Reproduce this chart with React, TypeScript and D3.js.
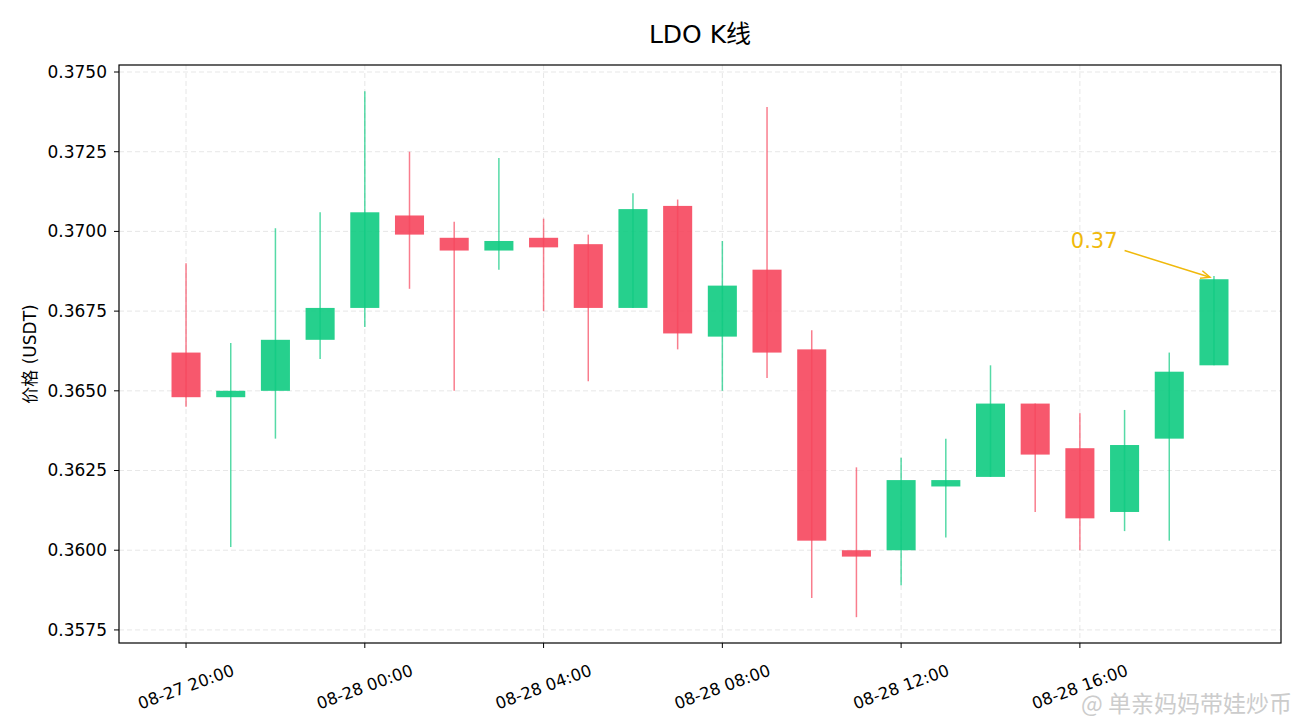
import React, { FC, useMemo } from "react";
import * as d3 from "d3";

// hourly candles, 08-27 20:00 .. 08-28 19:00
const times = [
    "08-27 20:00", "08-27 21:00", "08-27 22:00", "08-27 23:00",
    "08-28 00:00", "08-28 01:00", "08-28 02:00", "08-28 03:00",
    "08-28 04:00", "08-28 05:00", "08-28 06:00", "08-28 07:00",
    "08-28 08:00", "08-28 09:00", "08-28 10:00", "08-28 11:00",
    "08-28 12:00", "08-28 13:00", "08-28 14:00", "08-28 15:00",
    "08-28 16:00", "08-28 17:00", "08-28 18:00", "08-28 19:00",
];
const opens = [
    0.3662, 0.3648, 0.365, 0.3666, 0.3676, 0.3705, 0.3698, 0.3694,
    0.3698, 0.3696, 0.3676, 0.3708, 0.3667, 0.3688, 0.3663, 0.36,
    0.36, 0.362, 0.3623, 0.3646, 0.3632, 0.3612, 0.3635, 0.3658,
];
const highs = [
    0.369, 0.3665, 0.3701, 0.3706, 0.3744, 0.3725, 0.3703, 0.3723,
    0.3704, 0.3699, 0.3712, 0.371, 0.3697, 0.3739, 0.3669, 0.3626,
    0.3629, 0.3635, 0.3658, 0.3646, 0.3643, 0.3644, 0.3662, 0.3686,
];
const lows = [
    0.3645, 0.3601, 0.3635, 0.366, 0.367, 0.3682, 0.365, 0.3688,
    0.3675, 0.3653, 0.3676, 0.3663, 0.365, 0.3654, 0.3585, 0.3579,
    0.3589, 0.3604, 0.3623, 0.3612, 0.36, 0.3606, 0.3603, 0.3658,
];
const closes = [
    0.3648, 0.365, 0.3666, 0.3676, 0.3706, 0.3699, 0.3694, 0.3697,
    0.3695, 0.3676, 0.3707, 0.3668, 0.3683, 0.3662, 0.3603, 0.3598,
    0.3622, 0.3622, 0.3646, 0.363, 0.361, 0.3633, 0.3656, 0.3685,
];
const yTicks = [0.3575, 0.36, 0.3625, 0.365, 0.3675, 0.37, 0.3725, 0.375];
const xTickIdx = [0, 4, 8, 12, 16, 20];

const UP = "#0ECB81";
const DOWN = "#F6465D";
const GOLD = "#F0B90B";
const FONT = "'DejaVu Sans', 'Noto Sans CJK SC', sans-serif";

const W = 1300;
const H = 728;
const margin = { left: 119, right: 1281, top: 65, bottom: 643 };

const App: FC = () => {
    const x = useMemo(
        () => d3.scaleLinear([-1.5, times.length + 0.5], [margin.left, margin.right]),
        []
    );
    const y = useMemo(
        () => d3.scaleLinear([0.35709, 0.37522], [margin.bottom, margin.top]),
        []
    );
    const step = x(1) - x(0);
    const bodyW = step * 0.65;

    const candles = useMemo(
        () =>
            times.map((t, i) => ({
                t,
                i,
                o: opens[i],
                h: highs[i],
                l: lows[i],
                c: closes[i],
                up: closes[i] >= opens[i],
            })),
        []
    );

    const last = candles[candles.length - 1];
    const tipX = x(last.i) - 4;
    const tipY = y(last.c) - 2;
    const fromX = x(last.i - 2);
    const fromY = y(last.c + 0.0009);
    const ang = Math.atan2(tipY - fromY, tipX - fromX);
    const head = 10;

    return (
        <svg
            width={W}
            height={H}
            style={{ position: "absolute", top: 0, left: 0, background: "#fff" }}
            fontFamily={FONT}
        >
            {/* grid */}
            <g stroke="#b0b0b0" strokeOpacity={0.3} strokeDasharray="5,3" strokeWidth={1}>
                {yTicks.map((d) => (
                    <line key={d} x1={margin.left} x2={margin.right} y1={y(d)} y2={y(d)} />
                ))}
                {xTickIdx.map((d) => (
                    <line key={d} x1={x(d)} x2={x(d)} y1={margin.top} y2={margin.bottom} />
                ))}
            </g>

            {/* candles */}
            {candles.map((d) => {
                const col = d.up ? UP : DOWN;
                const top = y(Math.max(d.o, d.c));
                const bot = y(Math.min(d.o, d.c));
                return (
                    <g key={d.t}>
                        <rect
                            x={x(d.i) - bodyW / 2}
                            y={top}
                            width={bodyW}
                            height={Math.max(bot - top, 1)}
                            fill={col}
                            fillOpacity={0.9}
                        />
                        <line
                            x1={x(d.i)}
                            x2={x(d.i)}
                            y1={y(d.h)}
                            y2={y(d.l)}
                            stroke={col}
                            strokeOpacity={0.7}
                            strokeWidth={1.5}
                        />
                    </g>
                );
            })}

            {/* annotation of last close */}
            <text x={fromX - 7} y={fromY - 3} fill={GOLD} fontSize={21} textAnchor="end">
                {last.c.toFixed(2)}
            </text>
            <g stroke={GOLD} strokeWidth={1.5} fill="none">
                <line x1={fromX} y1={fromY} x2={tipX} y2={tipY} />
                <path
                    d={`M${tipX - head * Math.cos(ang - 0.4)},${tipY - head * Math.sin(ang - 0.4)}
                        L${tipX},${tipY}
                        L${tipX - head * Math.cos(ang + 0.4)},${tipY - head * Math.sin(ang + 0.4)}`}
                />
            </g>

            {/* frame */}
            <rect
                x={margin.left}
                y={margin.top}
                width={margin.right - margin.left}
                height={margin.bottom - margin.top}
                fill="none"
                stroke="#000"
                strokeWidth={1.2}
            />

            {/* y axis */}
            <g>
                {yTicks.map((d) => (
                    <g key={d} transform={`translate(${margin.left},${y(d)})`}>
                        <line x1={-5} x2={0} stroke="#000" strokeWidth={1} />
                        <text x={-12} dy="0.35em" textAnchor="end" fontSize={17} fill="#000">
                            {d.toFixed(4)}
                        </text>
                    </g>
                ))}
            </g>
            <text
                transform={`translate(30,${(margin.top + margin.bottom) / 2}) rotate(-90)`}
                textAnchor="middle"
                dy="0.35em"
                fontSize={17}
                fill="#000"
            >
                价格 (USDT)
            </text>

            {/* x axis */}
            <g>
                {xTickIdx.map((d) => (
                    <g key={d} transform={`translate(${x(d)},${margin.bottom})`}>
                        <line y1={0} y2={5} stroke="#000" strokeWidth={1} />
                        <text
                            transform={`translate(0,44) rotate(-20)`}
                            textAnchor="middle"
                            dominantBaseline="central"
                            fontSize={16.5}
                            fill="#000"
                        >
                            {times[d]}
                        </text>
                    </g>
                ))}
            </g>

            {/* title */}
            <text
                x={(margin.left + margin.right) / 2}
                y={43}
                textAnchor="middle"
                fontSize={25}
                fill="#000"
            >
                LDO K线
            </text>

            {/* watermark */}
            <text
                x={1292}
                y={712}
                textAnchor="end"
                fontSize={23}
                fill="#cccccc"
                fontFamily="'Noto Sans CJK SC', sans-serif"
            >
                @ 单亲妈妈带娃炒币
            </text>
        </svg>
    );
};

export default App;
